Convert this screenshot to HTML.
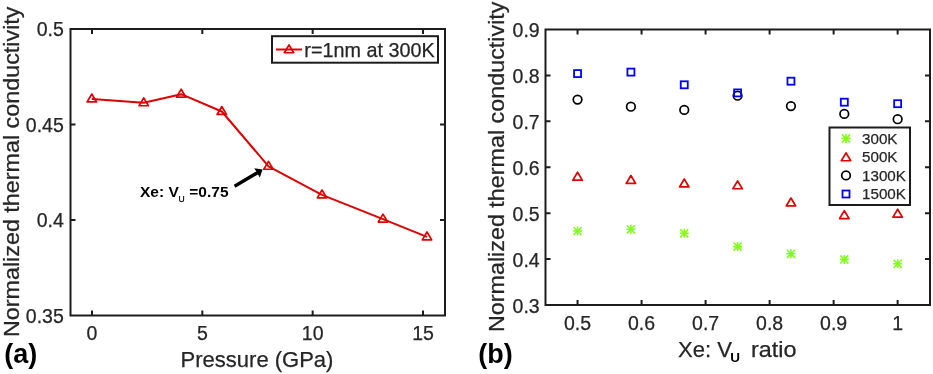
<!DOCTYPE html><html><head><meta charset="utf-8"><style>html,body{margin:0;padding:0;background:#fff;}body{width:933px;height:374px;overflow:hidden;}svg{display:block;will-change:transform;}text{font-family:"Liberation Sans",sans-serif;}</style></head><body>
<svg width="933" height="374" viewBox="0 0 933 374">
<rect width="933" height="374" fill="#fff"/>
<rect x="70.5" y="29" width="374.5" height="286.5" fill="none" stroke="#1c1c1c" stroke-width="2"/>
<text x="92.00" y="340.0" font-size="19.5" fill="#262626" stroke="#262626" stroke-width="0.25" text-anchor="middle">0</text>
<text x="202.33" y="340.0" font-size="19.5" fill="#262626" stroke="#262626" stroke-width="0.25" text-anchor="middle">5</text>
<text x="312.67" y="340.0" font-size="19.5" fill="#262626" stroke="#262626" stroke-width="0.25" text-anchor="middle">10</text>
<text x="423.00" y="340.0" font-size="19.5" fill="#262626" stroke="#262626" stroke-width="0.25" text-anchor="middle">15</text>
<text x="63.8" y="36.40" font-size="19.5" fill="#262626" stroke="#262626" stroke-width="0.25" text-anchor="end">0.5</text>
<text x="63.8" y="131.90" font-size="19.5" fill="#262626" stroke="#262626" stroke-width="0.25" text-anchor="end">0.45</text>
<text x="63.8" y="227.40" font-size="19.5" fill="#262626" stroke="#262626" stroke-width="0.25" text-anchor="end">0.4</text>
<text x="63.8" y="322.90" font-size="19.5" fill="#262626" stroke="#262626" stroke-width="0.25" text-anchor="end">0.35</text>
<path d="M92.00 315.5v-5M92.00 29v5M202.33 315.5v-5M202.33 29v5M312.67 315.5v-5M312.67 29v5M423.00 315.5v-5M423.00 29v5M70.5 124.50h5M445 124.50h-5M70.5 220.00h5M445 220.00h-5" stroke="#1c1c1c" stroke-width="2" fill="none"/>
<path d="M91.8 99.00 L143.7 102.80 L181.2 94.20 L221.8 111.50 L268.5 166.30 L322 194.90 L383 219.10 L427 236.90" stroke="#e00000" stroke-width="2" fill="none" stroke-linejoin="round"/>
<path d="M91.80 94.05L96.50 101.95L87.10 101.95Z" fill="none" stroke="#e00000" stroke-width="1.7" stroke-linejoin="round"/>
<path d="M143.70 97.85L148.40 105.75L139.00 105.75Z" fill="none" stroke="#e00000" stroke-width="1.7" stroke-linejoin="round"/>
<path d="M181.20 89.25L185.90 97.15L176.50 97.15Z" fill="none" stroke="#e00000" stroke-width="1.7" stroke-linejoin="round"/>
<path d="M221.80 106.55L226.50 114.45L217.10 114.45Z" fill="none" stroke="#e00000" stroke-width="1.7" stroke-linejoin="round"/>
<path d="M268.50 161.35L273.20 169.25L263.80 169.25Z" fill="none" stroke="#e00000" stroke-width="1.7" stroke-linejoin="round"/>
<path d="M322.00 189.95L326.70 197.85L317.30 197.85Z" fill="none" stroke="#e00000" stroke-width="1.7" stroke-linejoin="round"/>
<path d="M383.00 214.15L387.70 222.05L378.30 222.05Z" fill="none" stroke="#e00000" stroke-width="1.7" stroke-linejoin="round"/>
<path d="M427.00 231.95L431.70 239.85L422.30 239.85Z" fill="none" stroke="#e00000" stroke-width="1.7" stroke-linejoin="round"/>
<rect x="272" y="36.2" width="166" height="26.5" fill="#fff" stroke="#1c1c1c" stroke-width="2"/>
<path d="M276 49.5H302" stroke="#e00000" stroke-width="2"/>
<path d="M289.00 44.85L293.70 52.75L284.30 52.75Z" fill="none" stroke="#e00000" stroke-width="1.7" stroke-linejoin="round"/>
<text x="304.3" y="56.6" font-size="19.8" fill="#262626" stroke="#262626" stroke-width="0.25">r=1nm at 300K</text>
<text x="140" y="197.2" font-size="15.5" font-weight="bold" fill="#000">Xe: V</text>
<text x="178.6" y="202.3" font-size="8.5" fill="#000" stroke="#000" stroke-width="0.25">U</text>
<text x="189.3" y="197.2" font-size="15.5" font-weight="bold" fill="#000">=0.75</text>
<path d="M234.6 186.2L257.5 172.7" stroke="#000" stroke-width="3.4"/>
<path d="M262.6 169.6L254.3 168.3L256.9 172.6L259.8 177.5Z" fill="#000"/>
<text transform="translate(19,171.8) rotate(-90)" font-size="22" fill="#262626" stroke="#262626" stroke-width="0.25" text-anchor="middle" textLength="330.5" lengthAdjust="spacingAndGlyphs">Normalized thermal conductivity</text>
<text x="257" y="366.5" font-size="22" fill="#262626" stroke="#262626" stroke-width="0.25" text-anchor="middle">Pressure (GPa)</text>
<text x="4.3" y="362.5" font-size="27" font-weight="bold" fill="#000">(a)</text>
<rect x="545.5" y="29.5" width="384.5" height="275.5" fill="none" stroke="#1c1c1c" stroke-width="2"/>
<text x="577.55" y="330" font-size="19.5" fill="#262626" stroke="#262626" stroke-width="0.25" text-anchor="middle">0.5</text>
<text x="641.57" y="330" font-size="19.5" fill="#262626" stroke="#262626" stroke-width="0.25" text-anchor="middle">0.6</text>
<text x="705.59" y="330" font-size="19.5" fill="#262626" stroke="#262626" stroke-width="0.25" text-anchor="middle">0.7</text>
<text x="769.61" y="330" font-size="19.5" fill="#262626" stroke="#262626" stroke-width="0.25" text-anchor="middle">0.8</text>
<text x="833.63" y="330" font-size="19.5" fill="#262626" stroke="#262626" stroke-width="0.25" text-anchor="middle">0.9</text>
<text x="897.65" y="330" font-size="19.5" fill="#262626" stroke="#262626" stroke-width="0.25" text-anchor="middle">1</text>
<text x="539.7" y="312.50" font-size="19.5" fill="#262626" stroke="#262626" stroke-width="0.25" text-anchor="end">0.3</text>
<text x="539.7" y="266.58" font-size="19.5" fill="#262626" stroke="#262626" stroke-width="0.25" text-anchor="end">0.4</text>
<text x="539.7" y="220.67" font-size="19.5" fill="#262626" stroke="#262626" stroke-width="0.25" text-anchor="end">0.5</text>
<text x="539.7" y="174.75" font-size="19.5" fill="#262626" stroke="#262626" stroke-width="0.25" text-anchor="end">0.6</text>
<text x="539.7" y="128.83" font-size="19.5" fill="#262626" stroke="#262626" stroke-width="0.25" text-anchor="end">0.7</text>
<text x="539.7" y="82.92" font-size="19.5" fill="#262626" stroke="#262626" stroke-width="0.25" text-anchor="end">0.8</text>
<text x="539.7" y="37.00" font-size="19.5" fill="#262626" stroke="#262626" stroke-width="0.25" text-anchor="end">0.9</text>
<path d="M577.55 305v-5M577.55 29.5v5M641.57 305v-5M641.57 29.5v5M705.59 305v-5M705.59 29.5v5M769.61 305v-5M769.61 29.5v5M833.63 305v-5M833.63 29.5v5M897.65 305v-5M897.65 29.5v5M545.5 259.08h5M930 259.08h-5M545.5 213.17h5M930 213.17h-5M545.5 167.25h5M930 167.25h-5M545.5 121.33h5M930 121.33h-5M545.5 75.42h5M930 75.42h-5" stroke="#1c1c1c" stroke-width="2" fill="none"/>
<path d="M573.05 231.00L582.05 231.00M577.55 226.50L577.55 235.50M573.50 226.95L581.60 235.05M573.50 235.05L581.60 226.95" stroke="#80ff1a" stroke-width="1.6" fill="none"/>
<path d="M626.40 229.30L635.40 229.30M630.90 224.80L630.90 233.80M626.85 225.25L634.95 233.35M626.85 233.35L634.95 225.25" stroke="#80ff1a" stroke-width="1.6" fill="none"/>
<path d="M679.75 233.30L688.75 233.30M684.25 228.80L684.25 237.80M680.20 229.25L688.30 237.35M680.20 237.35L688.30 229.25" stroke="#80ff1a" stroke-width="1.6" fill="none"/>
<path d="M733.10 246.60L742.10 246.60M737.60 242.10L737.60 251.10M733.55 242.55L741.65 250.65M733.55 250.65L741.65 242.55" stroke="#80ff1a" stroke-width="1.6" fill="none"/>
<path d="M786.45 253.80L795.45 253.80M790.95 249.30L790.95 258.30M786.90 249.75L795.00 257.85M786.90 257.85L795.00 249.75" stroke="#80ff1a" stroke-width="1.6" fill="none"/>
<path d="M839.80 259.40L848.80 259.40M844.30 254.90L844.30 263.90M840.25 255.35L848.35 263.45M840.25 263.45L848.35 255.35" stroke="#80ff1a" stroke-width="1.6" fill="none"/>
<path d="M893.15 263.80L902.15 263.80M897.65 259.30L897.65 268.30M893.60 259.75L901.70 267.85M893.60 267.85L901.70 259.75" stroke="#80ff1a" stroke-width="1.6" fill="none"/>
<path d="M577.55 172.25L582.25 180.15L572.85 180.15Z" fill="none" stroke="#e00000" stroke-width="1.7" stroke-linejoin="round"/>
<path d="M630.90 175.55L635.60 183.45L626.20 183.45Z" fill="none" stroke="#e00000" stroke-width="1.7" stroke-linejoin="round"/>
<path d="M684.25 179.05L688.95 186.95L679.55 186.95Z" fill="none" stroke="#e00000" stroke-width="1.7" stroke-linejoin="round"/>
<path d="M737.60 180.85L742.30 188.75L732.90 188.75Z" fill="none" stroke="#e00000" stroke-width="1.7" stroke-linejoin="round"/>
<path d="M790.95 198.05L795.65 205.95L786.25 205.95Z" fill="none" stroke="#e00000" stroke-width="1.7" stroke-linejoin="round"/>
<path d="M844.30 210.65L849.00 218.55L839.60 218.55Z" fill="none" stroke="#e00000" stroke-width="1.7" stroke-linejoin="round"/>
<path d="M897.65 209.25L902.35 217.15L892.95 217.15Z" fill="none" stroke="#e00000" stroke-width="1.7" stroke-linejoin="round"/>
<circle cx="577.55" cy="99.60" r="4.3" fill="none" stroke="#000" stroke-width="1.7"/>
<circle cx="630.90" cy="106.70" r="4.3" fill="none" stroke="#000" stroke-width="1.7"/>
<circle cx="684.25" cy="109.90" r="4.3" fill="none" stroke="#000" stroke-width="1.7"/>
<circle cx="737.60" cy="95.70" r="4.3" fill="none" stroke="#000" stroke-width="1.7"/>
<circle cx="790.95" cy="106.10" r="4.3" fill="none" stroke="#000" stroke-width="1.7"/>
<circle cx="844.30" cy="113.90" r="4.3" fill="none" stroke="#000" stroke-width="1.7"/>
<circle cx="897.65" cy="119.20" r="4.3" fill="none" stroke="#000" stroke-width="1.7"/>
<rect x="574.05" y="70.10" width="7" height="7" fill="none" stroke="#0000ff" stroke-width="1.8"/>
<rect x="627.40" y="68.60" width="7" height="7" fill="none" stroke="#0000ff" stroke-width="1.8"/>
<rect x="680.75" y="81.30" width="7" height="7" fill="none" stroke="#0000ff" stroke-width="1.8"/>
<rect x="734.10" y="89.40" width="7" height="7" fill="none" stroke="#0000ff" stroke-width="1.8"/>
<rect x="787.45" y="77.70" width="7" height="7" fill="none" stroke="#0000ff" stroke-width="1.8"/>
<rect x="840.80" y="98.70" width="7" height="7" fill="none" stroke="#0000ff" stroke-width="1.8"/>
<rect x="894.15" y="100.20" width="7" height="7" fill="none" stroke="#0000ff" stroke-width="1.8"/>
<rect x="829.5" y="127.5" width="80.5" height="77.5" fill="#fff" stroke="#1c1c1c" stroke-width="2"/>
<path d="M841.50 138.40L850.50 138.40M846.00 133.90L846.00 142.90M841.95 134.35L850.05 142.45M841.95 142.45L850.05 134.35" stroke="#80ff1a" stroke-width="1.6" fill="none"/>
<path d="M846.00 152.85L850.70 160.75L841.30 160.75Z" fill="none" stroke="#e00000" stroke-width="1.7" stroke-linejoin="round"/>
<circle cx="846.00" cy="175.40" r="4.3" fill="none" stroke="#000" stroke-width="1.7"/>
<rect x="842.50" y="190.50" width="7" height="7" fill="none" stroke="#0000ff" stroke-width="1.8"/>
<text x="862" y="143.70" font-size="15.2" fill="#262626" stroke="#262626" stroke-width="0.25">300K</text>
<text x="862" y="162.10" font-size="15.2" fill="#262626" stroke="#262626" stroke-width="0.25">500K</text>
<text x="862" y="180.70" font-size="15.2" fill="#262626" stroke="#262626" stroke-width="0.25">1300K</text>
<text x="862" y="199.30" font-size="15.2" fill="#262626" stroke="#262626" stroke-width="0.25">1500K</text>
<text transform="translate(504.3,166.8) rotate(-90)" font-size="22" fill="#262626" stroke="#262626" stroke-width="0.25" text-anchor="middle" textLength="330.5" lengthAdjust="spacingAndGlyphs">Normalized thermal conductivity</text>
<text x="678" y="357" font-size="22" fill="#262626" stroke="#262626" stroke-width="0.25">Xe: V</text>
<text x="730.2" y="361.6" font-size="13.5" font-weight="bold" fill="#000">U</text>
<text x="751" y="357" font-size="22" fill="#262626" stroke="#262626" stroke-width="0.25" textLength="45.5" lengthAdjust="spacingAndGlyphs">ratio</text>
<text x="478.3" y="362.5" font-size="27" font-weight="bold" fill="#000">(b)</text>
</svg></body></html>
